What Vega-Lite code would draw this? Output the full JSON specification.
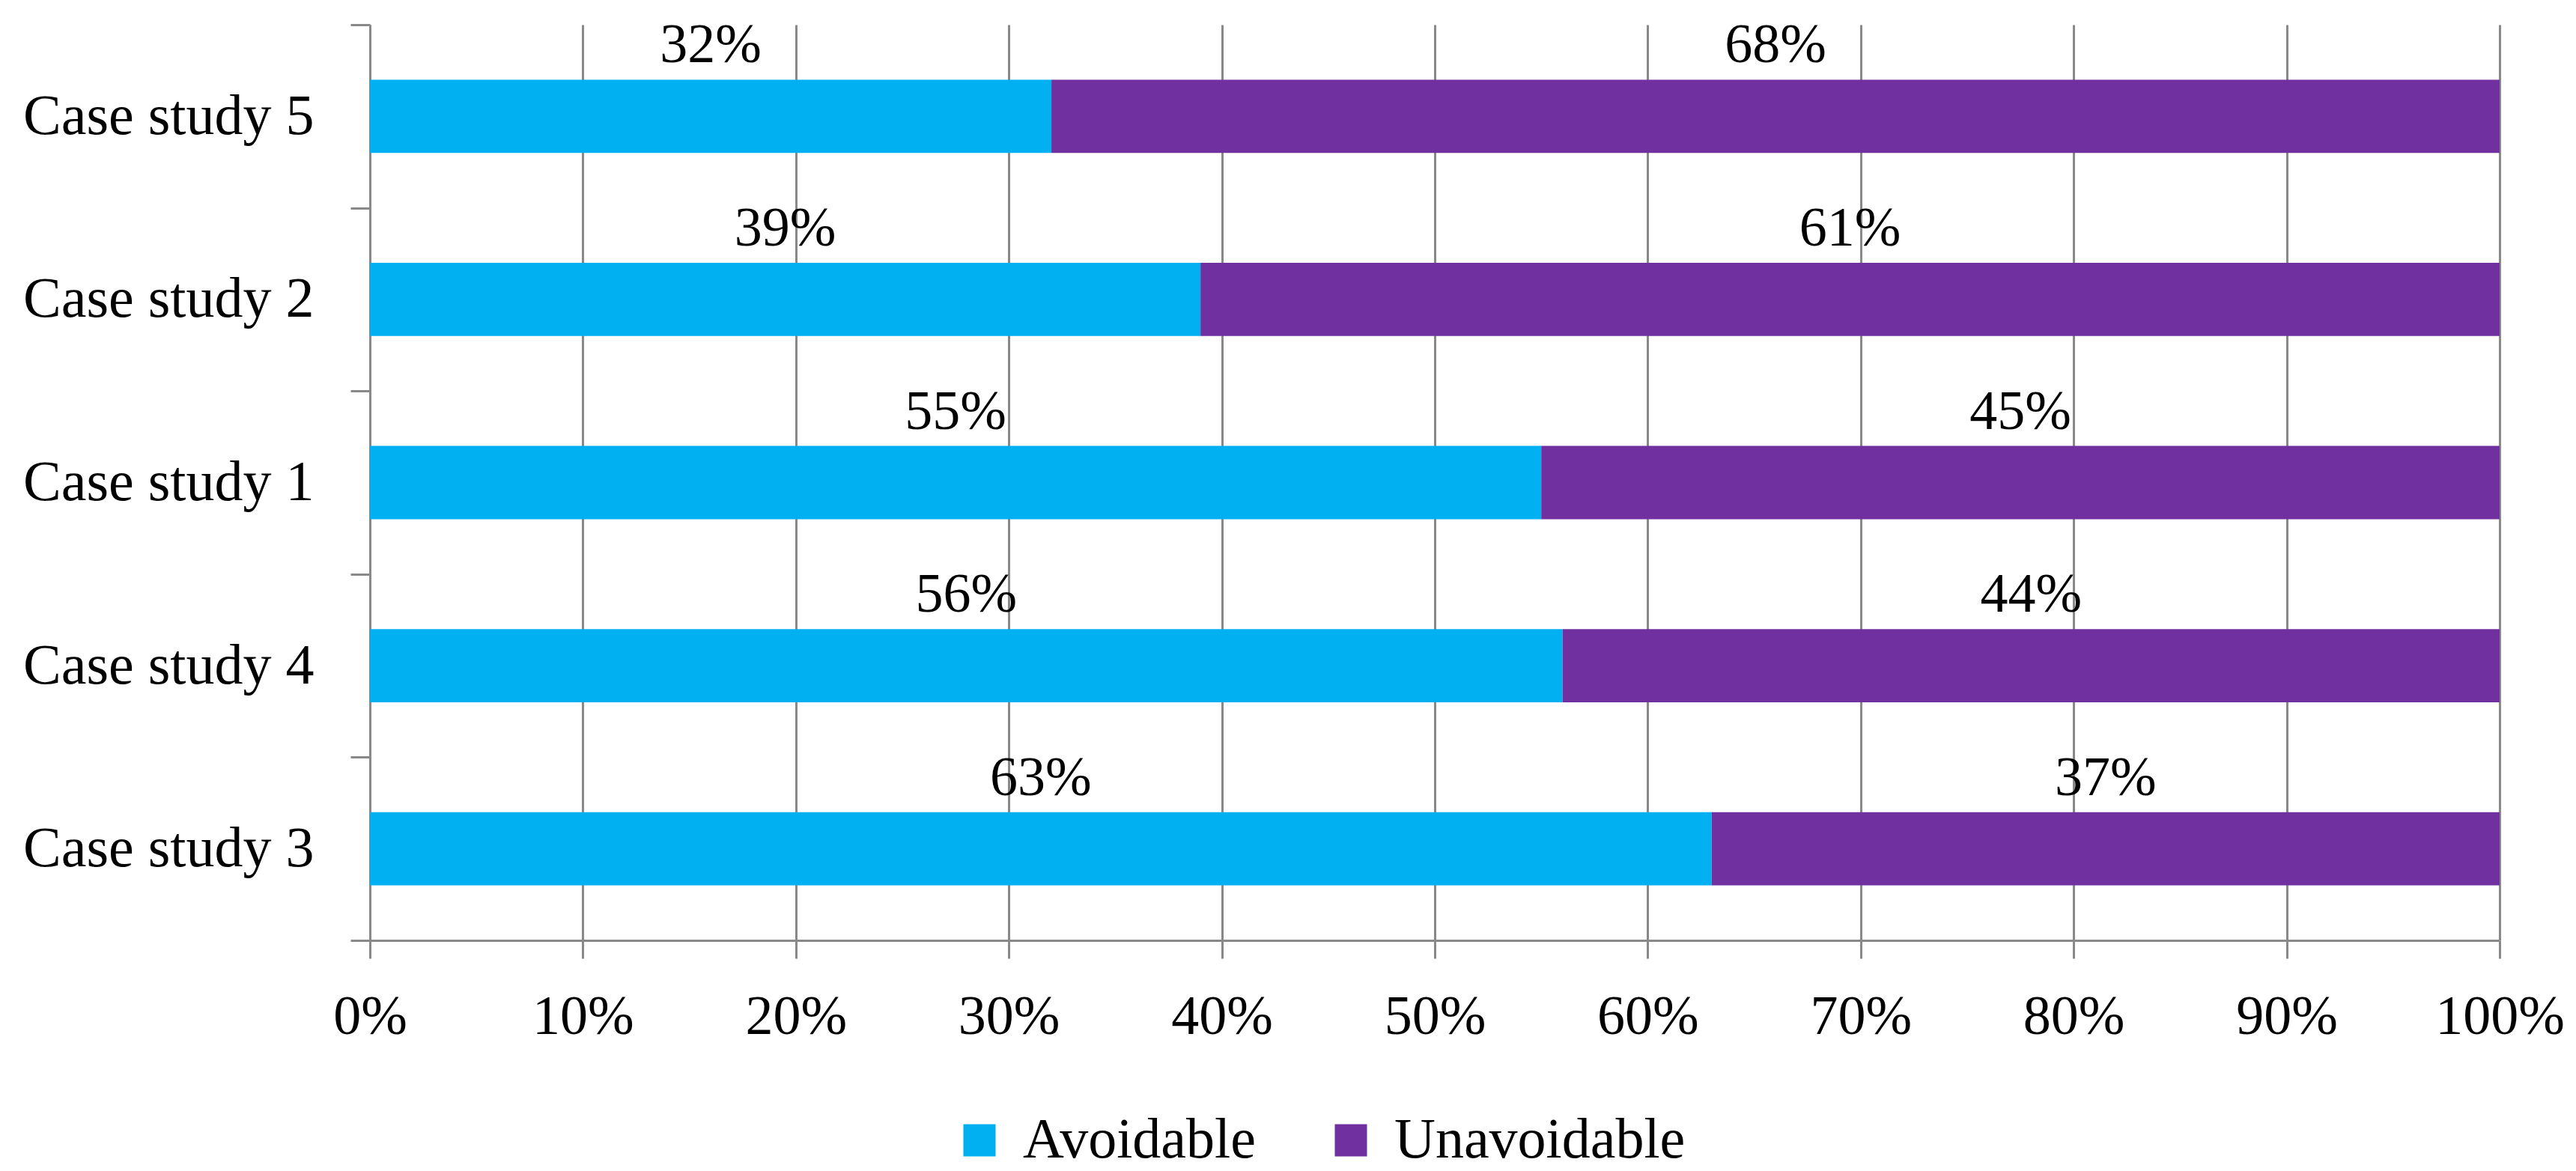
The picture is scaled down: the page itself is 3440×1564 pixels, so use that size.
{
  "$schema": "https://vega.github.io/schema/vega-lite/v6.json",
  "autosize": {"type": "none"},
  "width": 2844,
  "height": 1223,
  "padding": {"left": 494, "top": 33, "right": 102, "bottom": 308},
  "background": "white",
  "config": {
    "view": {"stroke": null},
    "font": "Liberation Serif"
  },
  "data": {
    "values": [
      {"case": "Case study 5", "category": "Avoidable", "value": 0.32},
      {"case": "Case study 5", "category": "Unavoidable", "value": 0.68},
      {"case": "Case study 2", "category": "Avoidable", "value": 0.39},
      {"case": "Case study 2", "category": "Unavoidable", "value": 0.61},
      {"case": "Case study 1", "category": "Avoidable", "value": 0.55},
      {"case": "Case study 1", "category": "Unavoidable", "value": 0.45},
      {"case": "Case study 4", "category": "Avoidable", "value": 0.56},
      {"case": "Case study 4", "category": "Unavoidable", "value": 0.44},
      {"case": "Case study 3", "category": "Avoidable", "value": 0.63},
      {"case": "Case study 3", "category": "Unavoidable", "value": 0.37}
    ]
  },
  "encoding": {
    "y": {
      "field": "case",
      "type": "nominal",
      "sort": ["Case study 5", "Case study 2", "Case study 1", "Case study 4", "Case study 3"],
      "scale": {"paddingInner": 0, "paddingOuter": 0},
      "axis": {
        "title": null,
        "domainColor": "#898989",
        "domainWidth": 3,
        "tickColor": "#898989",
        "tickWidth": 3,
        "tickSize": 26,
        "tickBand": "extent",
        "labelFontSize": 76,
        "labelFont": "Liberation Serif",
        "labelColor": "black",
        "labelPadding": 49,
        "labelLimit": 0,
        "grid": false
      }
    },
    "order": {"field": "category", "type": "ordinal", "sort": "ascending"}
  },
  "layer": [
    {
      "mark": {"type": "bar", "height": {"band": 0.4}},
      "encoding": {
        "x": {
          "field": "value",
          "type": "quantitative",
          "stack": "zero",
          "scale": {"domain": [0, 1], "nice": false},
          "axis": {
            "title": null,
            "values": [0, 0.1, 0.2, 0.3, 0.4, 0.5, 0.6, 0.7, 0.8, 0.9, 1],
            "format": ".0%",
            "grid": true,
            "gridColor": "#898989",
            "gridWidth": 3,
            "domainColor": "#898989",
            "domainWidth": 3,
            "tickColor": "#898989",
            "tickWidth": 3,
            "tickSize": 24,
            "labelFontSize": 74,
            "labelFont": "Liberation Serif",
            "labelColor": "black",
            "labelPadding": 42,
            "labelFlush": false,
            "labelOverlap": false
          }
        },
        "color": {
          "field": "category",
          "type": "nominal",
          "scale": {"domain": ["Avoidable", "Unavoidable"], "range": ["#00B0F0", "#7030A0"]},
          "legend": {
            "title": null,
            "orient": "none",
            "legendX": 776,
            "legendY": 1452,
            "direction": "horizontal",
            "symbolType": "square",
            "symbolSize": 1849,
            "symbolStrokeWidth": 0,
            "symbolOpacity": 1,
            "labelFontSize": 76,
            "labelFont": "Liberation Serif",
            "labelColor": "black",
            "labelOffset": 20,
            "labelLimit": 0,
            "columnPadding": 89,
            "padding": 0
          }
        }
      }
    },
    {
      "mark": {"type": "text", "fontSize": 74, "font": "Liberation Serif", "baseline": "alphabetic", "dy": -72, "color": "black"},
      "encoding": {
        "x": {
          "field": "value",
          "type": "quantitative",
          "stack": "zero",
          "bandPosition": 0.5,
          "axis": {
            "title": null,
            "values": [0, 0.1, 0.2, 0.3, 0.4, 0.5, 0.6, 0.7, 0.8, 0.9, 1],
            "format": ".0%",
            "grid": true,
            "gridColor": "#898989",
            "gridWidth": 3,
            "domainColor": "#898989",
            "domainWidth": 3,
            "tickColor": "#898989",
            "tickWidth": 3,
            "tickSize": 24,
            "labelFontSize": 74,
            "labelFont": "Liberation Serif",
            "labelColor": "black",
            "labelPadding": 42,
            "labelFlush": false,
            "labelOverlap": false
          }
        },
        "detail": {"field": "category", "type": "nominal"},
        "text": {"field": "value", "type": "quantitative", "format": ".0%"}
      }
    }
  ]
}
